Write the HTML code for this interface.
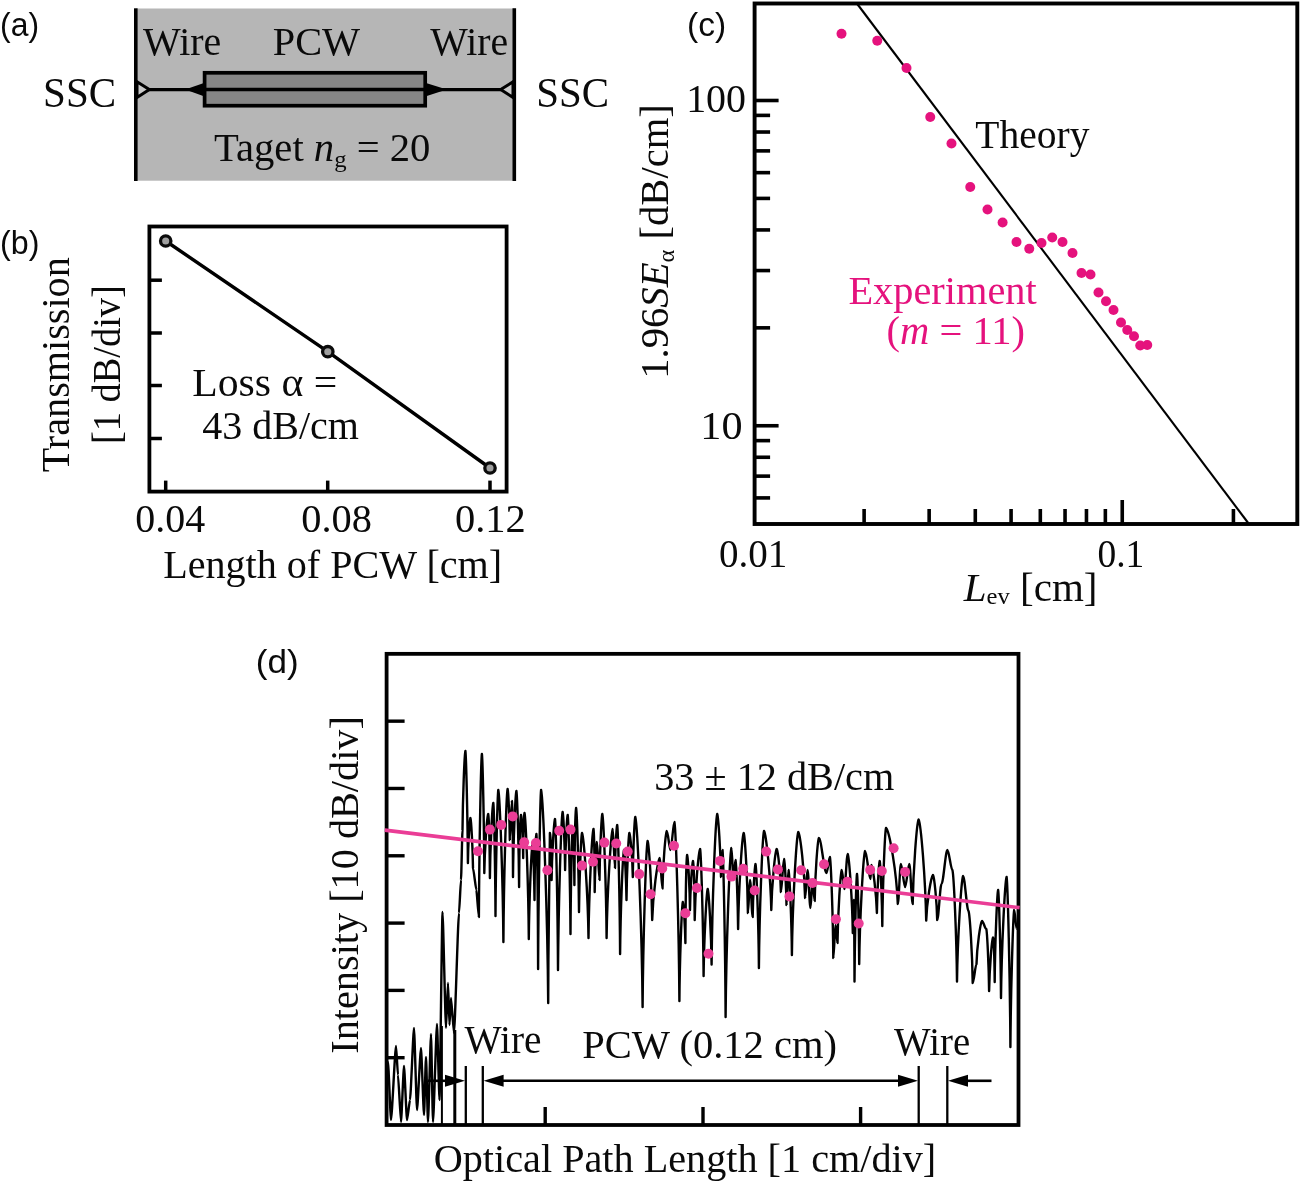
<!DOCTYPE html>
<html lang="en"><head><meta charset="utf-8"><title>Figure</title>
<style>
html,body{margin:0;padding:0;background:#fff}
body{width:1301px;height:1184px;overflow:hidden}
svg{display:block}
.se{font-family:"Liberation Serif", serif}
.sa{font-family:"Liberation Sans", sans-serif}
</style></head><body>
<svg width="1301" height="1184" viewBox="0 0 1301 1184">
<rect x="0" y="0" width="1301" height="1184" fill="#fff"/>
<g id="pa">
<rect x="135.8" y="8.5" width="378.5" height="172.2" fill="#b6b6b6"/>
<line x1="135.8" y1="8.3" x2="135.8" y2="181" stroke="#000" stroke-width="3.6"/>
<line x1="514.3" y1="8.3" x2="514.3" y2="181" stroke="#000" stroke-width="3.6"/>
<line x1="148" y1="89.6" x2="501" y2="89.6" stroke="#000" stroke-width="3.3"/>
<rect x="204.6" y="72.8" width="220.6" height="32.9" fill="#868686" stroke="#000" stroke-width="3.7"/>
<line x1="204" y1="89.6" x2="426" y2="89.6" stroke="#000" stroke-width="3.5"/>
<polygon points="185.2,89.6 203.2,83.2 203.2,96" fill="#000"/>
<polygon points="446.8,89.6 426.8,83.2 426.8,96" fill="#000"/>
<polygon points="137,81.8 149.3,89.6 137,97.4" fill="#c9c9c9" stroke="#000" stroke-width="3" stroke-linejoin="miter"/>
<polygon points="513,81.8 500.7,89.6 513,97.4" fill="#c9c9c9" stroke="#000" stroke-width="3" stroke-linejoin="miter"/>
<text class="sa" x="0.07" y="35.6" font-size="33" fill="#0a0a0a" textLength="38.95" lengthAdjust="spacingAndGlyphs">(a)</text>
<text class="se" x="143.1" y="54.8" font-size="39.5" fill="#0a0a0a" textLength="78.19" lengthAdjust="spacingAndGlyphs">Wire</text>
<text class="se" x="272.72" y="55.0" font-size="39.5" fill="#0a0a0a" textLength="87.39" lengthAdjust="spacingAndGlyphs">PCW</text>
<text class="se" x="430.3" y="55.0" font-size="39.5" fill="#0a0a0a" textLength="77.88" lengthAdjust="spacingAndGlyphs">Wire</text>
<text class="se" x="43.08" y="107.0" font-size="41.5" fill="#0a0a0a" textLength="73.04" lengthAdjust="spacingAndGlyphs">SSC</text>
<text class="se" x="536.19" y="107.4" font-size="41.5" fill="#0a0a0a" textLength="72.82" lengthAdjust="spacingAndGlyphs">SSC</text>
<text class="se" x="214.03" y="161.3" font-size="39.5" fill="#0a0a0a" textLength="216.4" lengthAdjust="spacingAndGlyphs">Taget <tspan font-style="italic">n</tspan><tspan font-size="24" dy="5.5">g</tspan><tspan dy="-5.5"> = 20</tspan></text>
</g>
<g id="pb">
<rect x="149.4" y="226.5" width="357.20000000000005" height="265.1" fill="none" stroke="#000" stroke-width="3.8"/>
<line x1="149.4" y1="280.2" x2="161.9" y2="280.2" stroke="#000" stroke-width="3.5"/>
<line x1="149.4" y1="333" x2="161.9" y2="333" stroke="#000" stroke-width="3.5"/>
<line x1="149.4" y1="385.5" x2="161.9" y2="385.5" stroke="#000" stroke-width="3.5"/>
<line x1="149.4" y1="438.5" x2="161.9" y2="438.5" stroke="#000" stroke-width="3.5"/>
<line x1="165.7" y1="491.6" x2="165.7" y2="480.6" stroke="#000" stroke-width="3.5"/>
<line x1="327.7" y1="491.6" x2="327.7" y2="480.6" stroke="#000" stroke-width="3.5"/>
<line x1="490" y1="491.6" x2="490" y2="480.6" stroke="#000" stroke-width="3.5"/>
<polyline points="165.7,241 327.8,351.7 490,468" fill="none" stroke="#000" stroke-width="3.4"/>
<circle cx="165.7" cy="241" r="5.2" fill="#a0a0a0" stroke="#0c0c0c" stroke-width="3.3"/>
<circle cx="327.8" cy="351.7" r="5.2" fill="#a0a0a0" stroke="#0c0c0c" stroke-width="3.3"/>
<circle cx="490" cy="468" r="5.2" fill="#a0a0a0" stroke="#0c0c0c" stroke-width="3.3"/>
<text class="sa" x="0.05" y="254.3" font-size="33" fill="#0a0a0a" textLength="39.4" lengthAdjust="spacingAndGlyphs">(b)</text>
<text class="se" font-size="40" fill="#0a0a0a" textLength="215.0" lengthAdjust="spacingAndGlyphs" transform="translate(69.0,472.25) rotate(-90)">Transmission</text>
<text class="se" font-size="40" fill="#0a0a0a" textLength="158.9" lengthAdjust="spacingAndGlyphs" transform="translate(120.4,444.08) rotate(-90)">[1 dB/div]</text>
<text class="se" x="192.2" y="395.6" font-size="40" fill="#0a0a0a" textLength="144.99" lengthAdjust="spacingAndGlyphs">Loss α =</text>
<text class="se" x="202.35" y="439.3" font-size="40" fill="#0a0a0a" textLength="156.62" lengthAdjust="spacingAndGlyphs">43 dB/cm</text>
<text class="se" x="135.3" y="531.7" font-size="40" fill="#0a0a0a" textLength="69.85" lengthAdjust="spacingAndGlyphs">0.04</text>
<text class="se" x="301.29" y="531.7" font-size="40" fill="#0a0a0a" textLength="70.63" lengthAdjust="spacingAndGlyphs">0.08</text>
<text class="se" x="454.98" y="531.7" font-size="40" fill="#0a0a0a" textLength="70.79" lengthAdjust="spacingAndGlyphs">0.12</text>
<text class="se" x="163.15" y="578.4" font-size="40" fill="#0a0a0a" textLength="338.95" lengthAdjust="spacingAndGlyphs">Length of PCW [cm]</text>
</g>
<g id="pc">
<rect x="754.6" y="3.5" width="542.6999999999999" height="520.5" fill="none" stroke="#000" stroke-width="3.9"/>
<line x1="754.6" y1="100.5" x2="778.6" y2="100.5" stroke="#000" stroke-width="3.6"/>
<line x1="754.6" y1="425.75" x2="778.6" y2="425.75" stroke="#000" stroke-width="3.6"/>
<line x1="754.6" y1="115.38262380485959" x2="770.1" y2="115.38262380485959" stroke="#000" stroke-width="3.6"/>
<line x1="754.6" y1="132.01998173087034" x2="770.1" y2="132.01998173087034" stroke="#000" stroke-width="3.6"/>
<line x1="754.6" y1="150.88186248536297" x2="770.1" y2="150.88186248536297" stroke="#000" stroke-width="3.6"/>
<line x1="754.6" y1="172.6563058127199" x2="770.1" y2="172.6563058127199" stroke="#000" stroke-width="3.6"/>
<line x1="754.6" y1="198.4100060897099" x2="770.1" y2="198.4100060897099" stroke="#000" stroke-width="3.6"/>
<line x1="754.6" y1="229.92998782058024" x2="770.1" y2="229.92998782058024" stroke="#000" stroke-width="3.6"/>
<line x1="754.6" y1="270.5663119024298" x2="770.1" y2="270.5663119024298" stroke="#000" stroke-width="3.6"/>
<line x1="754.6" y1="327.8399939102901" x2="770.1" y2="327.8399939102901" stroke="#000" stroke-width="3.6"/>
<line x1="754.6" y1="440.63262380485963" x2="770.1" y2="440.63262380485963" stroke="#000" stroke-width="3.6"/>
<line x1="754.6" y1="457.26998173087037" x2="770.1" y2="457.26998173087037" stroke="#000" stroke-width="3.6"/>
<line x1="754.6" y1="476.13186248536294" x2="770.1" y2="476.13186248536294" stroke="#000" stroke-width="3.6"/>
<line x1="754.6" y1="497.9063058127199" x2="770.1" y2="497.9063058127199" stroke="#000" stroke-width="3.6"/>
<line x1="1122.25" y1="524" x2="1122.25" y2="500" stroke="#000" stroke-width="3.6"/>
<line x1="864.1203773987082" y1="524" x2="864.1203773987082" y2="509" stroke="#000" stroke-width="3.6"/>
<line x1="929.1508793679714" y1="524" x2="929.1508793679714" y2="509" stroke="#000" stroke-width="3.6"/>
<line x1="975.2907547974165" y1="524" x2="975.2907547974165" y2="509" stroke="#000" stroke-width="3.6"/>
<line x1="1011.0796226012917" y1="524" x2="1011.0796226012917" y2="509" stroke="#000" stroke-width="3.6"/>
<line x1="1040.3212567666797" y1="524" x2="1040.3212567666797" y2="509" stroke="#000" stroke-width="3.6"/>
<line x1="1065.044706177265" y1="524" x2="1065.044706177265" y2="509" stroke="#000" stroke-width="3.6"/>
<line x1="1086.4611321961247" y1="524" x2="1086.4611321961247" y2="509" stroke="#000" stroke-width="3.6"/>
<line x1="1105.3517587359427" y1="524" x2="1105.3517587359427" y2="509" stroke="#000" stroke-width="3.6"/>
<line x1="1233.4203773987083" y1="524" x2="1233.4203773987083" y2="509" stroke="#000" stroke-width="3.6"/>
<line x1="857.3" y1="4" x2="1248.2" y2="523" stroke="#000" stroke-width="2.1"/>
<circle cx="841.5" cy="33.75" r="5" fill="#e5127d"/>
<circle cx="877.25" cy="40.75" r="5" fill="#e5127d"/>
<circle cx="906.5" cy="68" r="5" fill="#e5127d"/>
<circle cx="930.25" cy="117" r="5" fill="#e5127d"/>
<circle cx="951.5" cy="143.5" r="5" fill="#e5127d"/>
<circle cx="970.25" cy="187" r="5" fill="#e5127d"/>
<circle cx="987.5" cy="209.5" r="5" fill="#e5127d"/>
<circle cx="1002.6" cy="222.5" r="5" fill="#e5127d"/>
<circle cx="1016.5" cy="242" r="5" fill="#e5127d"/>
<circle cx="1029.25" cy="248.75" r="5" fill="#e5127d"/>
<circle cx="1041.5" cy="243" r="5" fill="#e5127d"/>
<circle cx="1052.25" cy="237.5" r="5" fill="#e5127d"/>
<circle cx="1062.5" cy="242" r="5" fill="#e5127d"/>
<circle cx="1072.5" cy="253" r="5" fill="#e5127d"/>
<circle cx="1081.5" cy="273" r="5" fill="#e5127d"/>
<circle cx="1090.5" cy="274.5" r="5" fill="#e5127d"/>
<circle cx="1098.5" cy="292.5" r="5" fill="#e5127d"/>
<circle cx="1106" cy="301.25" r="5" fill="#e5127d"/>
<circle cx="1113.5" cy="310" r="5" fill="#e5127d"/>
<circle cx="1121" cy="322.5" r="5" fill="#e5127d"/>
<circle cx="1127.25" cy="330" r="5" fill="#e5127d"/>
<circle cx="1134" cy="336.25" r="5" fill="#e5127d"/>
<circle cx="1140.25" cy="345.5" r="5" fill="#e5127d"/>
<circle cx="1147.25" cy="345" r="5" fill="#e5127d"/>
<text class="sa" x="687.07" y="35.7" font-size="33" fill="#0a0a0a" textLength="39.15" lengthAdjust="spacingAndGlyphs">(c)</text>
<text class="se" x="686.15" y="112.0" font-size="40.5" fill="#0a0a0a" textLength="59.93" lengthAdjust="spacingAndGlyphs">100</text>
<text class="se" x="700.35" y="438.6" font-size="40.5" fill="#0a0a0a" textLength="42.21" lengthAdjust="spacingAndGlyphs">10</text>
<text class="se" x="975.36" y="147.6" font-size="40" fill="#0a0a0a" textLength="114.1" lengthAdjust="spacingAndGlyphs">Theory</text>
<text class="se" x="848.44" y="304.0" font-size="40" fill="#e5127d" textLength="188.27" lengthAdjust="spacingAndGlyphs">Experiment</text>
<text class="se" x="886.61" y="344.3" font-size="39.5" fill="#e5127d" textLength="138.29" lengthAdjust="spacingAndGlyphs">(<tspan font-style="italic">m</tspan> = 11)</text>
<text class="se" x="719.04" y="566.5" font-size="40" fill="#0a0a0a" textLength="68.3" lengthAdjust="spacingAndGlyphs">0.01</text>
<text class="se" x="1097.49" y="566.5" font-size="40" fill="#0a0a0a" textLength="46.85" lengthAdjust="spacingAndGlyphs">0.1</text>
<text class="se" x="963.81" y="601.2" font-size="40" fill="#0a0a0a" textLength="133.68" lengthAdjust="spacingAndGlyphs"><tspan font-style="italic">L</tspan><tspan font-size="24" dy="2.5">ev</tspan><tspan dy="-2.5"> [cm]</tspan></text>
<text class="se" font-size="40" fill="#0a0a0a" textLength="274.68" lengthAdjust="spacingAndGlyphs" transform="translate(668.0,378.76) rotate(-90)">1.96<tspan font-style="italic">SE</tspan><tspan font-size="24" dy="6">α</tspan><tspan dy="-6"> [dB/cm]</tspan></text>
</g>
<g id="pd">
<rect x="386.6" y="653.85" width="631.9" height="471.15" fill="none" stroke="#000" stroke-width="3.8"/>
<line x1="386.6" y1="721.1600000000001" x2="404.6" y2="721.1600000000001" stroke="#000" stroke-width="3.4"/>
<line x1="386.6" y1="788.47" x2="404.6" y2="788.47" stroke="#000" stroke-width="3.4"/>
<line x1="386.6" y1="855.78" x2="404.6" y2="855.78" stroke="#000" stroke-width="3.4"/>
<line x1="386.6" y1="923.09" x2="404.6" y2="923.09" stroke="#000" stroke-width="3.4"/>
<line x1="386.6" y1="990.4000000000001" x2="404.6" y2="990.4000000000001" stroke="#000" stroke-width="3.4"/>
<line x1="386.6" y1="1057.71" x2="404.6" y2="1057.71" stroke="#000" stroke-width="3.4"/>
<line x1="545.2" y1="1125" x2="545.2" y2="1107" stroke="#000" stroke-width="3.4"/>
<line x1="703" y1="1125" x2="703" y2="1107" stroke="#000" stroke-width="3.4"/>
<line x1="860.6" y1="1125" x2="860.6" y2="1107" stroke="#000" stroke-width="3.4"/>
<path d="M388,1062C388.5,1062.0 390.5,1120.0 391,1120C391.9,1120.0 395.1,1046.0 396,1046C396.4,1046.0 397.6,1075.0 398,1075C398.5,1075.0 400.5,1122.0 401,1122C401.5,1122.0 403.5,1066.0 404,1066C404.5,1066.0 406.5,1120.0 407,1120C407.5,1120.0 409.5,1100.0 410,1100C410.7,1100.0 413.3,1028.0 414,1028C414.5,1028.0 416.5,1110.0 417,1110C417.7,1110.0 420.3,1048.0 421,1048C421.5,1048.0 423.5,1115.0 424,1115C424.4,1115.0 425.6,1057.0 426,1057C426.4,1057.0 427.6,1122.0 428,1122C428.5,1122.0 430.5,1034.0 431,1034C431.4,1034.0 432.6,1122.0 433,1122C433.7,1122.0 436.3,1024.0 437,1024C437.4,1024.0 439.1,1100.0 439.5,1100C440.0,1100.0 442.0,912.0 442.5,912C443.1,912.0 445.4,1028.0 446,1028C446.4,1028.0 447.6,983.0 448,983C448.3,983.0 449.2,1025.0 449.5,1025C449.8,1025.0 450.7,998.0 451,998C451.5,998.0 453.5,1033.0 454,1033C454.9,1033.0 458.1,913.0 459,913C459.4,913.0 460.6,880.0 461,880C461.3,880.0 462.2,830.0 462.5,830C462.8,796.8 464.5,754.2 465.4,751C466.1,755.5 467.6,816.0 467.9,863C468.1,844.1 469.6,819.8 470.4,818C471.2,820.0 472.7,847.0 473,868C473.6,868.0 475.8,890.0 476.4,890C476.8,890.0 478.4,917.0 478.9,917C479.2,848.5 481.0,760.5 481.9,754C482.6,758.8 484.1,823.0 484.3,873C484.7,848.2 487.0,816.4 488.2,814C488.7,816.6 489.7,851.1 489.9,878C490.2,846.5 492.3,806.0 493.3,803C494.0,807.5 495.3,868.5 495.5,916C495.8,863.1 497.5,795.0 498.3,790C499.8,796.1 502.9,878.2 503.4,942C503.8,877.7 506.3,795.1 507.6,789C508.3,791.0 509.6,818.6 509.8,840C510.2,840.0 511.5,801.0 511.9,801C512.2,804.0 512.9,845.1 513,877C513.3,840.9 515.4,794.4 516.4,791C517.2,794.8 518.8,846.7 519.1,887C519.3,856.8 520.4,817.9 521,815C521.7,816.7 523.0,839.9 523.2,858C523.3,839.1 524.1,814.8 524.5,813C525.8,818.0 528.4,886.1 528.8,939C529.2,899.5 531.4,848.8 532.5,845C533.1,847.2 534.3,876.9 534.5,900C534.7,872.3 535.8,836.6 536.4,834C536.9,839.4 537.9,912.3 538.1,969C538.4,893.8 540.2,797.2 541.1,790C543.2,798.5 547.5,913.5 548.2,1003C548.4,931.6 549.4,839.8 549.9,833C550.4,834.9 551.4,860.3 551.6,880C551.9,854.4 554.0,821.4 555,819C555.9,825.0 557.7,906.6 558,970C558.5,903.6 561.2,818.3 562.6,812C563.4,814.3 564.9,845.6 565.1,870C565.4,846.9 566.9,817.2 567.7,815C568.5,819.8 570.2,884.0 570.5,934C570.7,890.3 571.9,834.2 572.5,830C573.1,832.2 574.2,861.9 574.4,885C574.6,852.7 575.6,811.1 576.1,808C577.0,812.2 578.7,868.3 579,912C579.3,878.8 581.1,836.2 582,833C584.0,837.2 587.9,893.9 588.5,938C589.0,892.2 592.0,833.4 593.5,829C593.9,831.5 594.6,865.5 594.7,892C594.9,871.0 596.3,844.0 597,842C597.5,842.0 599.0,880.0 599.5,880C599.8,852.3 601.5,816.6 602.3,814C603.6,819.0 606.2,885.9 606.6,938C607.2,892.2 610.9,833.4 612.8,829C613.2,829.0 614.6,868.0 615,868C615.2,849.9 616.5,826.7 617.2,825C618.1,830.2 619.8,899.8 620.1,954C620.5,910.3 622.8,854.2 624,850C624.8,852.0 626.2,879.0 626.5,900C626.8,871.9 628.5,835.7 629.4,833C630.4,834.8 632.5,858.5 632.8,877C633.0,851.8 634.5,819.4 635.3,817C637.5,824.6 641.9,927.2 642.6,1007C643.1,937.3 646.1,847.6 647.6,841C649.0,844.2 651.7,886.8 652.2,920C653.0,894.0 657.5,860.5 659.8,858C660.7,858.0 661.6,888.5 662.5,888.5C662.9,864.4 665.5,833.3 666.8,831C668.0,831.0 669.3,850.0 670.5,850C671.7,850.0 673.2,822.0 674.4,822C675.9,829.2 678.9,925.8 679.4,1001C679.7,959.4 681.8,906.0 682.8,902C683.6,903.6 685.1,925.8 685.4,943C685.6,906.0 686.6,858.5 687.1,855C688.0,857.2 689.7,886.9 690,910C690.3,889.4 692.1,863.0 693,861C693.5,863.4 694.5,895.2 694.7,920C695.2,890.2 698.5,851.8 700.1,849C701.1,854.1 703.2,922.7 703.6,976C704.0,939.5 706.5,892.5 707.7,889C708.9,892.0 711.2,932.8 711.6,964.5C712.2,901.3 715.5,820.0 717.2,814C718.3,816.5 720.6,850.5 721,877C721.5,877.0 722.0,850.0 722.5,850C723.4,856.7 725.3,946.9 725.6,1017C726.2,946.0 729.7,854.8 731.4,848C732.1,848.0 732.8,880.0 733.5,880C734.1,880.0 734.9,860.0 735.5,860C736.3,862.8 737.8,900.0 738.1,929C738.7,888.7 742.0,836.8 743.7,833C745.0,836.2 747.5,879.4 747.9,913C748.6,913.0 749.3,880.0 750,880C750.9,880.0 751.8,917.0 752.7,917C753.0,894.7 754.7,866.1 755.5,864C756.5,868.2 758.6,924.3 758.9,968C759.4,910.5 762.5,836.5 764,831C766.2,834.2 770.6,876.8 771.3,910C771.8,884.4 775.1,851.4 776.7,849C778.0,850.7 780.5,873.9 780.9,892C781.9,892.0 783.0,859.0 784,859C784.8,860.8 786.2,885.7 786.5,905C787.1,905.0 787.9,870.0 788.5,870C789.5,873.4 791.6,919.3 791.9,955C792.5,903.3 796.4,836.9 798.3,832C800.3,834.6 804.4,870.3 805.1,898C805.9,898.0 806.7,870.0 807.5,870C808.5,870.0 809.5,908.0 810.5,908C811.1,908.0 811.9,880.0 812.5,880C813.2,880.0 814.0,901.0 814.7,901C815.1,874.5 817.6,840.5 818.9,838C821.3,838.0 824.1,873.0 826.5,873C827.6,873.0 828.8,857.0 829.9,857C830.9,861.0 833.0,915.6 833.3,958C834.0,958.0 834.8,925.0 835.5,925C836.1,925.0 836.9,943.0 837.5,943C837.9,912.3 840.5,872.9 841.8,870C842.6,870.0 843.5,889.0 844.3,889C845.4,889.0 846.6,854.0 847.7,854C849.2,857.2 852.3,899.8 852.8,933C853.1,933.0 853.3,900.0 853.6,900C853.9,903.3 854.4,947.3 854.5,981.5C854.8,936.4 856.2,878.3 857,874C857.7,877.6 859.0,926.2 859.2,964C859.8,916.5 863.3,855.5 865.1,851C866.8,851.0 868.8,879.0 870.5,879C870.8,879.0 871.0,865.0 871.3,865C873.0,866.9 876.3,892.8 876.9,913C877.2,891.2 878.9,863.1 879.7,861C880.5,863.6 882.0,898.7 882.3,926C882.7,884.8 884.9,831.9 886,828C889.5,831.0 896.6,872.1 897.8,904C898.8,904.0 899.9,864.0 900.9,864C902.2,864.0 903.8,887.0 905.1,887C906.4,887.0 908.0,864.0 909.3,864C910.4,864.0 911.6,904.0 912.7,904C913.3,868.5 916.8,822.9 918.6,819.5C920.9,823.5 925.4,878.1 926.2,920.6C926.9,901.4 931.0,876.8 933,875C934.3,876.8 936.8,901.1 937.2,920C938.6,920.0 940.1,884.0 941.5,884C943.4,884.0 945.5,850.0 947.4,850C949.0,850.0 950.8,870.0 952.4,870C953.8,874.5 956.5,934.7 957,981.5C957.6,937.2 961.3,880.2 963.1,876C964.8,876.0 966.8,911.0 968.5,911C969.8,913.9 972.3,952.8 972.7,983C973.9,983.0 975.3,964.0 976.5,964C977.0,945.9 980.4,922.7 982,921C983.4,921.0 984.9,929.0 986.3,929C987.1,931.5 988.8,965.0 989.1,991C989.5,968.5 991.8,939.6 993,937.5C993.5,939.3 994.5,963.3 994.7,982C995.0,943.4 997.1,893.7 998.1,890C999.0,894.3 1000.7,952.6 1001,998C1001.6,947.2 1004.9,881.8 1006.6,877C1007.7,883.8 1010.0,975.6 1010.4,1047C1010.8,989.5 1013.1,915.5 1014.2,910C1015.0,910.0 1015.9,929.0 1016.7,929" fill="none" stroke="#000" stroke-width="2.4" stroke-linejoin="round"/>
<line x1="441.9" y1="1026" x2="441.9" y2="1125" stroke="#000" stroke-width="2"/>
<line x1="454.8" y1="1030" x2="454.8" y2="1125" stroke="#000" stroke-width="3"/>
<line x1="465.8" y1="1066" x2="465.8" y2="1125" stroke="#000" stroke-width="2.3"/>
<line x1="482.8" y1="1066" x2="482.8" y2="1125" stroke="#000" stroke-width="2.3"/>
<line x1="918.7" y1="1066" x2="918.7" y2="1125" stroke="#000" stroke-width="2.3"/>
<line x1="947.3" y1="1066" x2="947.3" y2="1125" stroke="#000" stroke-width="2.3"/>
<line x1="428" y1="1080.8" x2="450" y2="1080.8" stroke="#000" stroke-width="2.6"/>
<polygon points="465,1080.8 445,1074.8 445,1086.8" fill="#000"/>
<line x1="500" y1="1080.8" x2="900" y2="1080.8" stroke="#000" stroke-width="2.6"/>
<polygon points="483.6,1080.8 503.6,1074.8 503.6,1086.8" fill="#000"/>
<polygon points="918,1080.8 898,1074.8 898,1086.8" fill="#000"/>
<polygon points="948,1080.8 968,1074.8 968,1086.8" fill="#000"/>
<line x1="965" y1="1080.8" x2="991.5" y2="1080.8" stroke="#000" stroke-width="2.6"/>
<line x1="384.8" y1="830.1" x2="1019.6" y2="907.65" stroke="#ea3d96" stroke-width="3.6"/>
<circle cx="478.0" cy="851.3" r="5" fill="#ea3d96"/>
<circle cx="489.9" cy="829.6" r="5" fill="#ea3d96"/>
<circle cx="501.2" cy="824.9" r="5" fill="#ea3d96"/>
<circle cx="512.7" cy="816.4" r="5" fill="#ea3d96"/>
<circle cx="524.2" cy="842.3" r="5" fill="#ea3d96"/>
<circle cx="535.9" cy="843.1" r="5" fill="#ea3d96"/>
<circle cx="547.4" cy="870.2" r="5" fill="#ea3d96"/>
<circle cx="559.2" cy="830.8" r="5" fill="#ea3d96"/>
<circle cx="570.5" cy="829.6" r="5" fill="#ea3d96"/>
<circle cx="582.0" cy="865.6" r="5" fill="#ea3d96"/>
<circle cx="593.0" cy="861.7" r="5" fill="#ea3d96"/>
<circle cx="604.4" cy="842.6" r="5" fill="#ea3d96"/>
<circle cx="616.2" cy="843.5" r="5" fill="#ea3d96"/>
<circle cx="627.7" cy="851.6" r="5" fill="#ea3d96"/>
<circle cx="639.2" cy="874.1" r="5" fill="#ea3d96"/>
<circle cx="650.5" cy="894.2" r="5" fill="#ea3d96"/>
<circle cx="662.2" cy="868.5" r="5" fill="#ea3d96"/>
<circle cx="674.0" cy="845.7" r="5" fill="#ea3d96"/>
<circle cx="685.4" cy="913.3" r="5" fill="#ea3d96"/>
<circle cx="696.9" cy="888.0" r="5" fill="#ea3d96"/>
<circle cx="708.5" cy="953.7" r="5" fill="#ea3d96"/>
<circle cx="720.0" cy="860.9" r="5" fill="#ea3d96"/>
<circle cx="731.4" cy="876.6" r="5" fill="#ea3d96"/>
<circle cx="743.2" cy="868.8" r="5" fill="#ea3d96"/>
<circle cx="754.7" cy="890.5" r="5" fill="#ea3d96"/>
<circle cx="766.2" cy="851.6" r="5" fill="#ea3d96"/>
<circle cx="777.9" cy="869.4" r="5" fill="#ea3d96"/>
<circle cx="789.4" cy="896.4" r="5" fill="#ea3d96"/>
<circle cx="801.2" cy="870.2" r="5" fill="#ea3d96"/>
<circle cx="812.5" cy="882.9" r="5" fill="#ea3d96"/>
<circle cx="824.0" cy="864.3" r="5" fill="#ea3d96"/>
<circle cx="835.9" cy="919.2" r="5" fill="#ea3d96"/>
<circle cx="847.4" cy="881.7" r="5" fill="#ea3d96"/>
<circle cx="858.7" cy="923.5" r="5" fill="#ea3d96"/>
<circle cx="870.2" cy="869.9" r="5" fill="#ea3d96"/>
<circle cx="881.8" cy="871.0" r="5" fill="#ea3d96"/>
<circle cx="893.6" cy="848.2" r="5" fill="#ea3d96"/>
<circle cx="905.1" cy="871.9" r="5" fill="#ea3d96"/>
<text class="sa" x="255.88" y="673.4" font-size="33" fill="#0a0a0a" textLength="42.85" lengthAdjust="spacingAndGlyphs">(d)</text>
<text class="se" x="654.19" y="789.6" font-size="40" fill="#0a0a0a" textLength="240.04" lengthAdjust="spacingAndGlyphs">33 ± 12 dB/cm</text>
<text class="se" x="464.5" y="1053.2" font-size="39.5" fill="#0a0a0a" textLength="76.97" lengthAdjust="spacingAndGlyphs">Wire</text>
<text class="se" x="582.33" y="1058.0" font-size="40" fill="#0a0a0a" textLength="254.61" lengthAdjust="spacingAndGlyphs">PCW (0.12 cm)</text>
<text class="se" x="894.1" y="1054.6" font-size="39.5" fill="#0a0a0a" textLength="76.05" lengthAdjust="spacingAndGlyphs">Wire</text>
<text class="se" x="433.74" y="1171.6" font-size="40" fill="#0a0a0a" textLength="502.46" lengthAdjust="spacingAndGlyphs">Optical Path Length [1 cm/div]</text>
<text class="se" font-size="40" fill="#0a0a0a" textLength="337.56" lengthAdjust="spacingAndGlyphs" transform="translate(358.2,1053.71) rotate(-90)">Intensity [10 dB/div]</text>
</g>
</svg>
</body></html>
